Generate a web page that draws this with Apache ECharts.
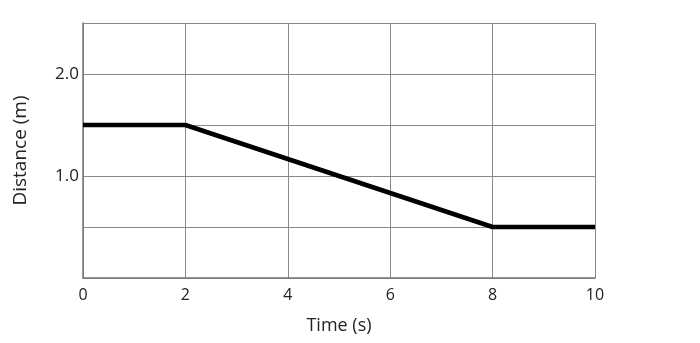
<!DOCTYPE html>
<html>
<head>
<meta charset="utf-8">
<script src="https://cdn.jsdelivr.net/npm/echarts@6/dist/echarts.min.js"></script>
<style>html,body{margin:0;padding:0;background:#fff}#c{width:700px;height:343px}</style>
</head>
<body>
<div id="c"></div>
<script>
const timeValues = [0, 2, 8, 10];
const distanceValues = [1.5, 1.5, 0.5, 0.5];
const yLabeledTicks = [1.0, 2.0];
const xName = 'Time (s)';
const yName = 'Distance (m)';

const chart = echarts.init(document.getElementById('c'), null, {renderer: 'canvas'});
const font = '"Open Sans", sans-serif';
const gridColor = '#8a8a8a';
chart.setOption({
  animation: false,
  backgroundColor: '#fff',
  grid: {left: 83, right: 105, top: 23, bottom: 65, containLabel: false, outerBoundsMode: 'none'},
  xAxis: {
    type: 'value', min: 0, max: 10, interval: 2,
    name: xName, nameLocation: 'middle', nameGap: 39,
    nameTextStyle: {fontFamily: font, fontSize: 18, color: '#222'},
    axisLine: {show: true, lineStyle: {color: '#777', width: 1.5}},
    axisTick: {show: false},
    axisLabel: {fontFamily: font, fontSize: 16, color: '#222', margin: 9},
    splitLine: {show: true, lineStyle: {color: gridColor, width: 1}}
  },
  yAxis: {
    type: 'value', min: 0, max: 2.5, interval: 0.5,
    name: yName, nameLocation: 'middle', nameGap: 53,
    nameTextStyle: {fontFamily: font, fontSize: 19, color: '#222'},
    axisLine: {show: true, lineStyle: {color: '#777', width: 1.5}},
    axisTick: {show: false},
    axisLabel: {
      fontFamily: font, fontSize: 17, color: '#222', margin: 4,
      formatter: v => yLabeledTicks.some(t => Math.abs(t - v) < 1e-9) ? v.toFixed(1) : ''
    },
    splitLine: {show: true, lineStyle: {color: gridColor, width: 1}}
  },
  series: [{
    type: 'line',
    data: timeValues.map((t, i) => [t, distanceValues[i]]),
    symbol: 'none',
    lineStyle: {color: '#000', width: 4.5},
    z: 5
  }]
});
</script>
</body>
</html>
